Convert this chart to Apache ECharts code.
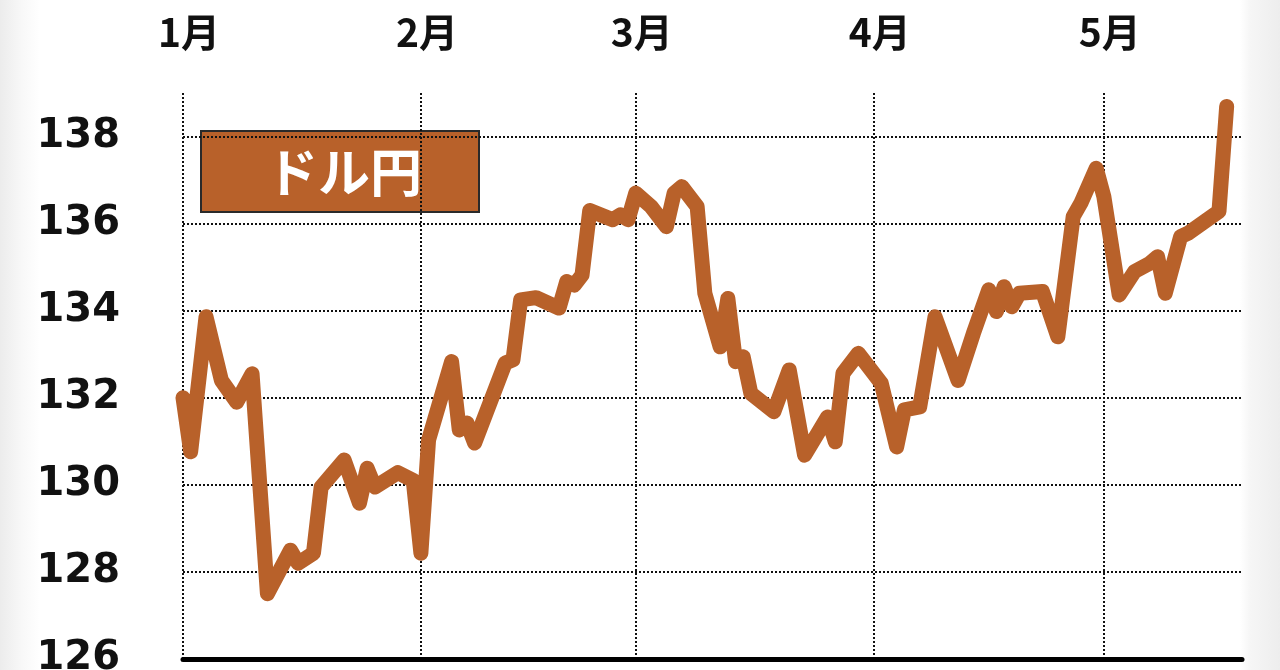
<!DOCTYPE html>
<html>
<head>
<meta charset="utf-8">
<script src="https://cdn.jsdelivr.net/npm/echarts@6/dist/echarts.min.js"></script>
<style>
  html, body { margin: 0; padding: 0; }
  body {
    width: 1280px; height: 670px;
    background: linear-gradient(to right, #ececec 0px, #f8f8f8 22px, #ffffff 40px, #ffffff 1240px, #f6f6f6 1250px, #ededed 1280px);
  }
  #chart { width: 1280px; height: 670px; }
</style>
</head>
<body>
<div id="chart"></div>
<script>
const dates = [
  '2023-01-01','2023-01-02','2023-01-04','2023-01-06','2023-01-08','2023-01-10','2023-01-12','2023-01-15',
  '2023-01-16','2023-01-18','2023-01-19','2023-01-22','2023-01-24','2023-01-25','2023-01-26','2023-01-29',
  '2023-01-31','2023-02-01','2023-02-02','2023-02-05','2023-02-06','2023-02-07','2023-02-08','2023-02-12',
  '2023-02-13','2023-02-14','2023-02-16','2023-02-19','2023-02-20','2023-02-21','2023-02-22','2023-02-23',
  '2023-02-26','2023-02-27','2023-02-28','2023-03-01','2023-03-03','2023-03-05','2023-03-06','2023-03-07',
  '2023-03-09','2023-03-10','2023-03-12','2023-03-13','2023-03-14','2023-03-15','2023-03-16','2023-03-19',
  '2023-03-21','2023-03-23','2023-03-26','2023-03-27','2023-03-28','2023-03-30','2023-04-02','2023-04-04',
  '2023-04-05','2023-04-07','2023-04-09','2023-04-12','2023-04-14','2023-04-16','2023-04-17','2023-04-18',
  '2023-04-19','2023-04-20','2023-04-23','2023-04-25','2023-04-27','2023-04-28','2023-04-30','2023-05-01',
  '2023-05-03','2023-05-05','2023-05-07','2023-05-08','2023-05-09','2023-05-11','2023-05-12','2023-05-16',
  '2023-05-17'
];
const usdjpy = [
  132.0, 130.76, 133.86, 132.4, 131.9, 132.55, 127.5, 128.5,
  128.2, 128.43, 129.95, 130.57, 129.58, 130.38, 129.95, 130.28,
  130.1, 128.43, 131.03, 132.83, 131.26, 131.42, 130.96, 132.8,
  132.87, 134.25, 134.3, 134.06, 134.67, 134.59, 134.82, 136.3,
  136.09, 136.2, 136.09, 136.7, 136.39, 135.93, 136.7, 136.85,
  136.39, 134.4, 133.17, 134.28, 132.83, 132.94, 132.1, 131.68,
  132.64, 130.68, 131.56, 130.99, 132.56, 133.02, 132.33, 130.87,
  131.72, 131.79, 133.86, 132.4, 133.48, 134.48, 133.98, 134.55,
  134.09, 134.4, 134.44, 133.4, 136.16, 136.47, 137.27, 136.62,
  134.36, 134.9, 135.09, 135.24, 134.4, 135.7, 135.78, 136.28,
  138.69
];
const xMin = '2023-01-01';
const xMax = '2023-05-19';
const yMin = 126, yMax = 139, yStep = 2;
const titleText = 'ドル円';
const monthSuffix = '月';

const chart = echarts.init(document.getElementById('chart'), null, { renderer: 'canvas' });
const DAY = 86400000;
const gridStyle = { color: '#111', width: 2, type: [2, 2] };

chart.setOption({
  animation: false,
  backgroundColor: 'transparent',
  grid: { left: 183, right: 38, top: 93, bottom: 11, containLabel: false, outerBoundsMode: 'none' },
  xAxis: [{
    type: 'time',
    position: 'top',
    min: xMin, max: xMax,
    minInterval: 28 * DAY, maxInterval: 31 * DAY,
    axisLine: { show: false },
    axisTick: { show: false },
    axisLabel: {
      show: true,
      margin: 41,
      fontSize: 39,
      lineHeight: 40,
      fontWeight: 'bold',
      fontFamily: '"Noto Sans CJK JP", sans-serif',
      color: '#111',
      padding: [0, 0, 0, 12],
      showMinLabel: true,
      showMaxLabel: false,
      formatter: function (v) {
        const d = new Date(v);
        return d.getDate() === 1 ? (d.getMonth() + 1) + monthSuffix : '';
      }
    },
    splitLine: { show: true, showMaxLine: false, lineStyle: gridStyle }
  }, {
    type: 'time',
    position: 'bottom',
    min: xMin, max: xMax,
    axisLine: { show: true, lineStyle: { color: '#000', width: 5 } },
    axisTick: { show: false },
    axisLabel: { show: false },
    splitLine: { show: false }
  }],
  yAxis: {
    type: 'value',
    min: yMin, max: yMax, interval: yStep,
    axisLine: { show: false },
    axisTick: { show: false },
    axisLabel: {
      margin: 63,
      fontSize: 40,
      fontWeight: 'bold',
      fontFamily: '"DejaVu Sans", sans-serif',
      color: '#111',
      showMaxLabel: false
    },
    splitLine: { show: true, showMaxLine: false, showMinLine: false, lineStyle: gridStyle }
  },
  series: [{
    type: 'line',
    xAxisIndex: 0,
    data: dates.map((d, i) => [d, usdjpy[i]]),
    showSymbol: false,
    symbol: 'none',
    z: 10,
    lineStyle: { color: '#B8612A', width: 15, cap: 'round', join: 'round' }
  }],
  graphic: [{
    type: 'group',
    left: 200, top: 130,
    z: 100,
    children: [{
      type: 'rect',
      shape: { x: 0, y: 0, width: 278, height: 81 },
      style: { fill: '#B8612A', stroke: '#2a2a2a', lineWidth: 2 }
    }, {
      type: 'text',
      x: 143, y: 41,
      style: {
        text: titleText,
        fill: '#fff',
        fontSize: 52,
        fontWeight: 'bold',
        fontFamily: '"Noto Sans CJK JP", sans-serif',
        align: 'center',
        verticalAlign: 'middle'
      }
    }]
  }]
});
</script>
</body>
</html>
